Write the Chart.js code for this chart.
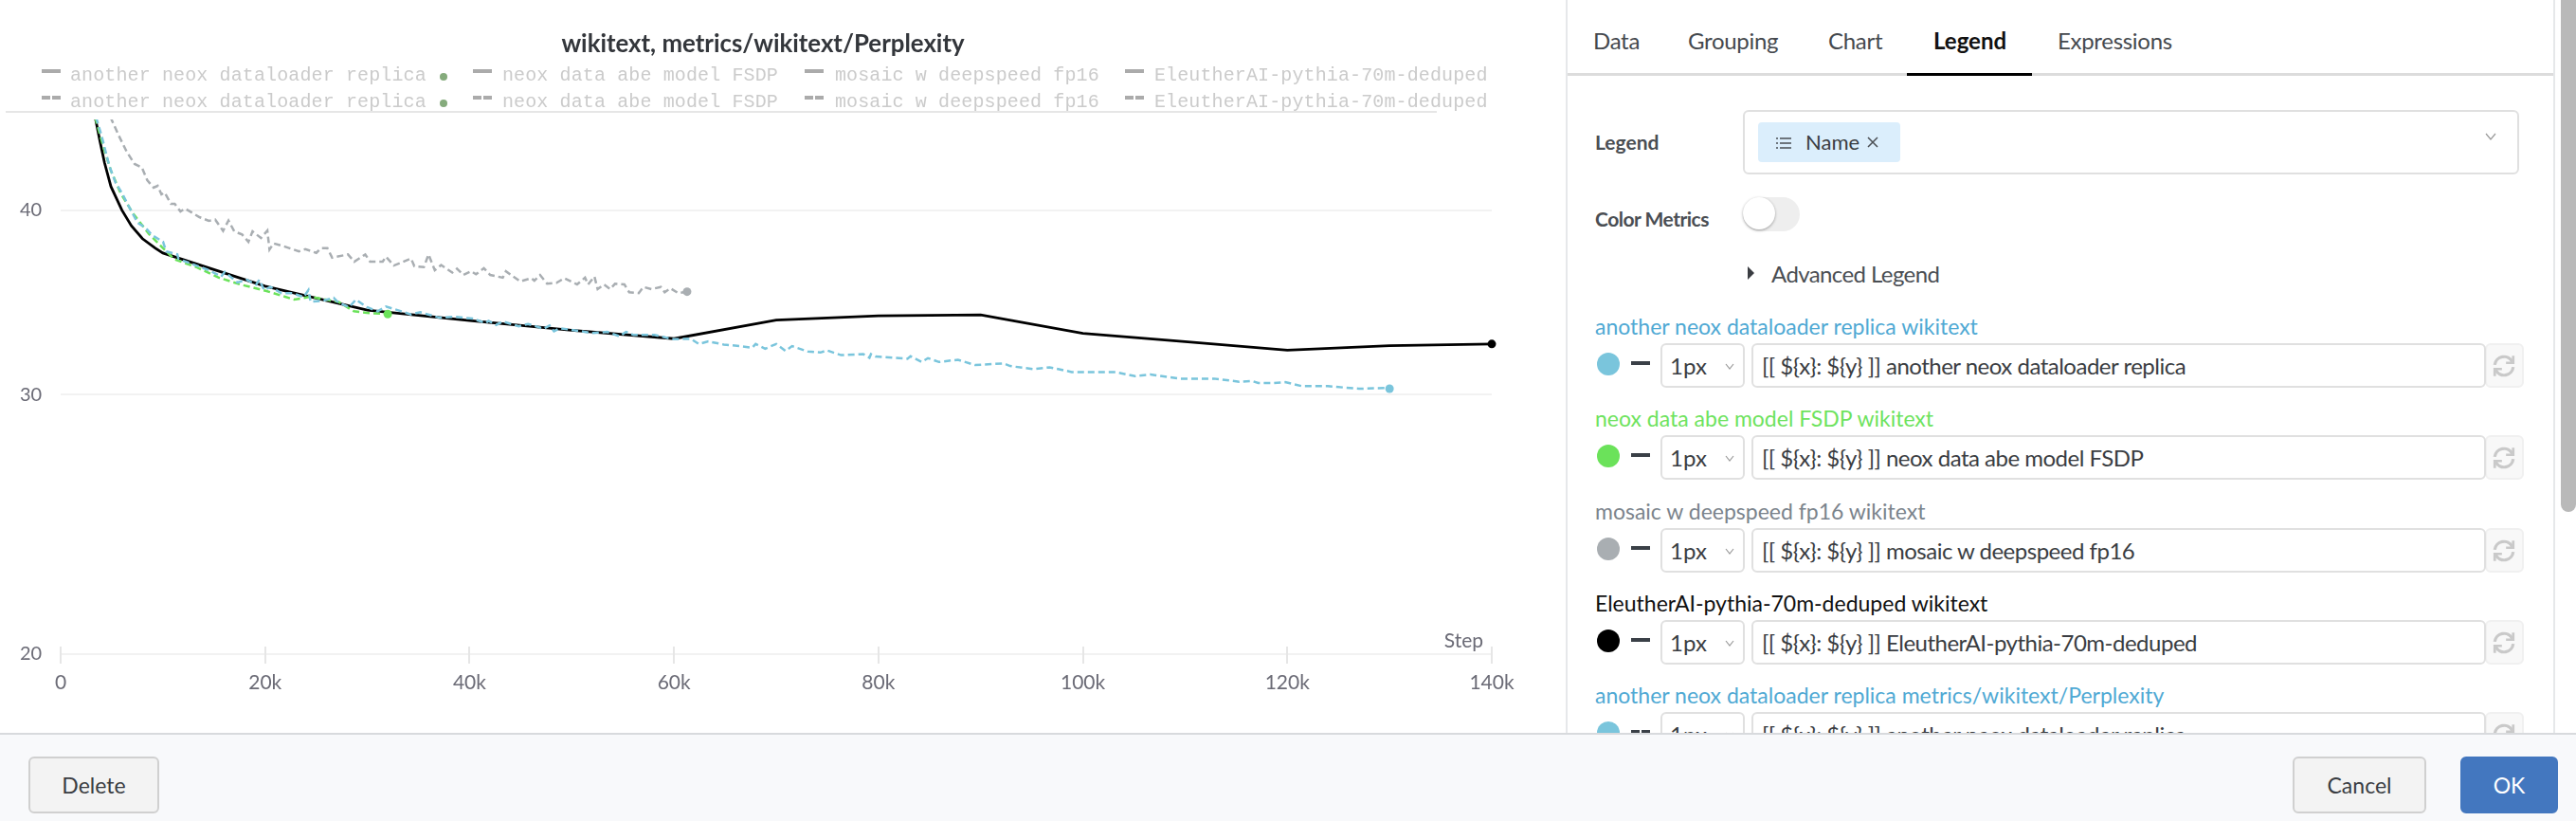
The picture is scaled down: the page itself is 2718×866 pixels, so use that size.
<!DOCTYPE html>
<html>
<head>
<meta charset="utf-8">
<title>wikitext, metrics/wikitext/Perplexity</title>
<script src="https://cdn.jsdelivr.net/npm/chart.js@4"></script>
<style>
  html, body { margin: 0; padding: 0; background: #fff; overflow: hidden; }
  body { width: 2718px; height: 866px; position: relative; font-family: Lato, sans-serif; color: #3a3d42; }
  .abs { position: absolute; white-space: nowrap; }
  canvas { position: absolute; left: 0; top: 0; }
  .lg { position: absolute; font-family: "Liberation Mono", monospace; font-size: 20px; letter-spacing: 0.12px; color: #cbcbcb; white-space: pre; line-height: 24px; }
  .sw { position: absolute; height: 4px; background: #ababab; }
  .gd { position: absolute; width: 8px; height: 8px; border-radius: 50%; background: #85ab7c; }
  .tab { position: absolute; top: 27px; font-size: 24px; line-height: 32px; letter-spacing: -0.3px; color: #45494e; white-space: nowrap; }
  .box { position: absolute; box-sizing: border-box; border: 2px solid #e0e0e0; border-radius: 6px; background: #fff; }
  .btn { position: absolute; box-sizing: border-box; top: 798px; height: 60px; border: 2px solid #d0d0d0; border-radius: 6px; background: #f3f3f3; font-size: 23px; line-height: 56px; text-align: center; color: #3a3d42; }
</style>
</head>
<body>
<canvas id="chart" width="1610" height="772"></canvas>
<div id="legend"></div>
<div class="abs" style="left:6px;top:117px;width:1510px;height:2px;background:#e6e6e6"></div>

<div id="panel">
  <div class="abs" style="left:1652px;top:0;width:2px;height:773px;background:#e6e8ea"></div>
  <div class="abs" style="left:2694px;top:0;width:2px;height:773px;background:#e6e8ea"></div>
  <div class="abs" style="left:2702px;top:0;width:16px;height:540px;background:#b9b9b9;border-radius:0 0 8px 8px"></div>
  <div class="abs" style="left:1654px;top:77px;width:1040px;height:3px;background:#dcdcdc"></div>
  <div class="abs" style="left:2012px;top:77px;width:132px;height:3px;background:#000"></div>
  <div class="tab" style="left:1681px">Data</div>
  <div class="tab" style="left:1781px">Grouping</div>
  <div class="tab" style="left:1929px">Chart</div>
  <div class="tab" style="left:2040px;font-weight:700;color:#111;letter-spacing:0">Legend</div>
  <div class="tab" style="left:2171px">Expressions</div>

  <div class="abs" style="left:1683px;top:136px;font-size:21px;line-height:28px;font-weight:700;color:#4a4e53">Legend</div>
  <div class="box" style="left:1839px;top:116px;width:819px;height:68px"></div>
  <div class="abs" style="left:1855px;top:129px;width:150px;height:42px;background:#dbeefc;border-radius:4px"></div>
  <svg class="abs" style="left:1873px;top:143px" width="18" height="16"><path d="M5 3H17M5 8H17M5 13H17M1 3H3M1 8H3M1 13H3" stroke="#4a4e53" stroke-width="1.5" fill="none"/></svg>
  <div class="abs" style="left:1905px;top:136px;font-size:22px;line-height:28px;color:#3a3d42">Name</div>
  <svg class="abs" style="left:1969px;top:143px" width="14" height="14"><path d="M2 2L12 12M12 2L2 12" stroke="#4a4e53" stroke-width="1.5" fill="none"/></svg>
  <svg class="abs" style="left:2622px;top:140px" width="12" height="8"><path d="M1 1L6 7L11 1" stroke="#9a9a9a" stroke-width="1.2" fill="none"/></svg>

  <div class="abs" style="left:1683px;top:217px;font-size:21px;line-height:28px;font-weight:700;letter-spacing:-0.5px;color:#4a4e53">Color Metrics</div>
  <div class="abs" style="left:1839px;top:208px;width:60px;height:36px;background:#eeeeee;border-radius:18px"></div>
  <div class="abs" style="left:1839px;top:208px;width:34px;height:34px;background:#fff;border-radius:50%;box-shadow:0 1px 3px rgba(0,0,0,.35)"></div>
  <div class="abs" style="left:1844px;top:281px;width:0;height:0;border-left:7px solid #3a3d42;border-top:7px solid transparent;border-bottom:7px solid transparent"></div>
  <div class="abs" style="left:1869px;top:273px;font-size:24px;line-height:32px;letter-spacing:-0.6px;color:#4a4e53">Advanced Legend</div>

  <div id="rows"></div>
</div>

<div class="abs" style="left:0;top:773px;width:2718px;height:93px;background:#f8f9fb;border-top:2px solid #d8dadd;box-sizing:border-box"></div>
<div class="btn" style="left:30px;width:138px">Delete</div>
<div class="btn" style="left:2419px;width:141px">Cancel</div>
<div class="btn" style="left:2596px;width:103px;background:#4377bf;border-color:#4377bf;color:#fff">OK</div>

<script>
const seriesNames = ['another neox dataloader replica', 'neox data abe model FSDP', 'mosaic w deepspeed fp16', 'EleutherAI-pythia-70m-deduped'];
const seriesColors = ['#7ac5dc', '#6be25a', '#a9aeb2', '#000000'];
const headingColors = ['#4fa9d4', '#6ee35e', '#7b848c', '#111111'];
const xTicks = [0, 20000, 40000, 60000, 80000, 100000, 120000, 140000];
const yTicks = [20, 30, 40];

const tealSteps = [3230,3525,3989,4759,5380,5964,6614,7541,8283,8932,10018,10324,11410,11530,13265,14500,15700,16050,17280,18210,19140,19440,19900,20530,21610,22660,23770,24240,24450,25630,26710,27180,28230,28880,29960,31010,31820,33330,34260,35180,37040,38430,40280,41560,41860,42610,43260,44800,45730,47240,47830,48260,48820,50950,51880,53460,54660,55310,56050,58100,59950,61650,62430,63360,64870,66440,67650,67990,68920,70000,70920,71550,73100,74330,74950,76340,78510,79120,79270,79710,82840,83140,84230,84840,85920,87780,89450,92230,92880,95200,96750,98910,101040,103240,105100,106610,109390,112830,115300,116540,117150,118670,119780,121450,123950,127010,129520,130000];
const tealValues = [47,46.09,44.97,42.86,41.74,41.12,40.3,39.21,38.93,38.47,38.07,37.51,37.33,37.07,36.69,36.42,36.06,36.33,35.73,35.88,35.62,35.88,35.31,35.48,35.14,35.14,34.93,35.31,34.67,34.72,34.89,34.62,34.38,34.79,34.38,34.16,34.41,34.16,33.99,34.11,33.82,33.87,33.77,33.54,33.65,33.44,33.62,33.37,33.49,33.24,33.41,33.11,33.27,33.11,33.02,33.08,32.85,33.08,32.92,32.92,32.7,32.72,32.46,32.59,32.43,32.35,32.27,32.46,32.22,32.46,32.11,32.35,32.08,32.03,32.14,31.9,31.95,31.77,31.95,31.83,31.72,31.84,31.56,31.75,31.56,31.67,31.41,31.49,31.36,31.21,31.3,31.07,31.06,31.06,30.87,30.95,30.75,30.75,30.6,30.64,30.54,30.54,30.58,30.39,30.39,30.27,30.3,30.27];

const greenSteps = [3180,3432,4137,4916,5844,7077,8627,9860,11094,13265,15426,17560,20064,22847,24396,27180,28690,29960,32000];
const greenValues = [47,46.09,44.26,42.55,41.1,39.8,38.55,37.79,37.06,36.6,36.01,35.62,35.27,34.79,34.94,34.67,34.16,34.07,34.01];

const greySteps = [4573,4972,5686,6456,7235,7940,8470,9090,9490,9860,10170,10790,11160,11720,12180,13570,14500,15120,15890,16420,16980,17750,18370,18770,19600,20220,20430,20830,21920,23310,23930,25010,25470,26090,26560,28110,28720,29800,30270,31500,31820,32590,34280,34600,35530,35990,36600,37220,38310,38770,39390,40160,40630,41400,42020,43250,43560,44950,46040,46340,46900,47590,48510,49280,50520,51300,51600,52220,52530,53150,53760,54230,55150,55620,56550,57010,57790,58720,59090,59650,60420,61280];
const greyValues = [47,46.09,44.94,43.83,42.99,42.76,41.92,41.43,41.55,41,41.12,40.4,40.4,39.92,40.1,39.57,39.34,39.41,38.73,39.36,38.7,38.51,38.07,38.7,38.3,38.74,37.62,37.98,37.79,37.51,37.64,37.42,37.7,37.7,37.14,37.33,36.91,37.33,36.91,36.91,37.2,36.69,37.09,36.65,36.6,37.33,36.42,36.72,36.29,36.51,36.15,36.36,36.19,36.54,36.15,36,36.36,35.79,35.97,35.83,36.15,35.66,35.71,35.97,35.62,36,35.62,36.06,35.36,35.62,35.36,35.66,35.62,35.19,35.14,35.48,35.36,35.48,35.19,35.41,35.14,35.22];

const blackSteps = [3180,3830,4295,4916,5992,6920,8005,9240,10000,20000,30000,40000,50000,60000,70000,80000,90000,100000,110000,120000,130000,140000];
const blackValues = [47,44.59,43.07,41.51,40,39.03,38.26,37.7,37.41,35.52,34.22,33.67,33.16,32.73,33.69,33.92,33.97,33,32.58,32.15,32.37,32.46];

function toPoints(steps, values) {
  return steps.map((x, i) => ({ x: x, y: values[i] }));
}

function lineSet(name, idx, steps, values, dash, width) {
  return {
    label: name,
    data: toPoints(steps, values),
    borderColor: seriesColors[idx],
    backgroundColor: seriesColors[idx],
    borderWidth: width,
    borderDash: dash,
    tension: 0,
    fill: false,
    pointBorderWidth: 0,
    pointRadius: ctx => (ctx.dataIndex === steps.length - 1 ? 4.5 : 0),
    clip: { left: 0, top: 0, right: 8, bottom: 0 }
  };
}

// short ticks that straddle the bottom line, plus the "Step" label
const axisExtras = {
  id: 'axisExtras',
  afterDraw(chart) {
    const ctx = chart.ctx, x = chart.scales.x, y = chart.scales.y;
    const base = y.getPixelForValue(20);
    ctx.save();
    ctx.strokeStyle = '#e6e6e6';
    ctx.lineWidth = 2;
    xTicks.forEach(v => {
      const px = Math.round(x.getPixelForValue(v));
      ctx.beginPath();
      ctx.moveTo(px, base - 8);
      ctx.lineTo(px, base + 10);
      ctx.stroke();
    });
    ctx.fillStyle = '#6b6b76';
    ctx.font = '21px Lato';
    ctx.textAlign = 'right';
    ctx.textBaseline = 'middle';
    ctx.fillText('Step', x.right - 9, base - 14);
    ctx.restore();
  }
};

new Chart(document.getElementById('chart'), {
  type: 'line',
  data: {
    datasets: [
      lineSet(seriesNames[0], 0, tealSteps, tealValues, [7, 4], 2.5),
      lineSet(seriesNames[1], 1, greenSteps, greenValues, [7, 4], 2.5),
      lineSet(seriesNames[2], 2, greySteps, greyValues, [7, 4], 2.5),
      lineSet(seriesNames[3], 3, blackSteps, blackValues, [], 2.8)
    ]
  },
  options: {
    responsive: false,
    animation: false,
    devicePixelRatio: 1,
    layout: { autoPadding: false, padding: { left: 36, right: 36, top: 0, bottom: 0 } },
    plugins: {
      legend: { display: false },
      tooltip: { enabled: false },
      title: {
        display: true,
        text: 'wikitext, metrics/wikitext/Perplexity',
        color: '#33363b',
        font: { family: 'Lato', size: 25.8, weight: 'bold', lineHeight: 1.2 },
        padding: { top: 31, bottom: 64 }
      }
    },
    scales: {
      x: {
        type: 'linear',
        min: 0,
        max: 140000,
        afterBuildTicks: s => { s.ticks = xTicks.map(v => ({ value: v })); },
        afterFit: s => { s.height = 82; },
        grid: { display: false },
        border: { display: false },
        ticks: {
          padding: 10,
          maxRotation: 0,
          color: '#6b6b76',
          font: { family: 'Lato', size: 21 },
          callback: v => (v === 0 ? '0' : v / 1000 + 'k')
        }
      },
      y: {
        type: 'logarithmic',
        min: 20,
        max: 46.09,
        afterBuildTicks: s => { s.ticks = yTicks.map(v => ({ value: v })); },
        afterFit: s => { s.width = 28; },
        grid: { color: '#f2f2f2', lineWidth: 2, drawTicks: false },
        border: { display: false },
        // mirrored so the labels may sit left of the narrow axis box
        ticks: {
          mirror: true,
          padding: -43,
          color: '#6b6b76',
          font: { family: 'Lato', size: 20 },
          callback: v => String(v)
        }
      }
    }
  },
  plugins: [axisExtras]
});

// two legend rows above the plot: solid swatch then dashed swatch
const swatchLefts = [44, 499, 849, 1187];
const textLefts = [74, 530, 881, 1218];
const legendEl = document.getElementById('legend');
[0, 1].forEach(row => {
  const top = 68 + row * 27.5;
  seriesNames.forEach((name, i) => {
    const left = swatchLefts[i];
    const swatch = row === 0
      ? `<div class="sw" style="left:${left}px;top:${top + 5}px;width:20px"></div>`
      : `<div class="sw" style="left:${left}px;top:${top + 5}px;width:9px"></div><div class="sw" style="left:${left + 11}px;top:${top + 5}px;width:9px"></div>`;
    const dot = i === 0 ? `<div class="gd" style="left:464px;top:${top + 9}px"></div>` : '';
    legendEl.insertAdjacentHTML('beforeend', swatch + `<div class="lg" style="left:${textLefts[i]}px;top:${top}px">${name}</div>` + dot);
  });
});

// settings rows in the side panel
const refreshIcon = '<svg width="26" height="26" viewBox="0 0 24 24" fill="none" stroke="#c9c9c9" stroke-width="3"><path d="M3 11A9 9 0 0 1 20 8M21 13A9 9 0 0 1 4 16"/><path d="M21 2V9H14M3 22V15H10" stroke-width="2.5"/></svg>';
const rowsEl = document.getElementById('rows');
const rowTitles = seriesNames.map(n => n + ' wikitext').concat(seriesNames[0] + ' metrics/wikitext/Perplexity');
rowTitles.forEach((title, i) => {
  const c = i % 4, t = Math.round(362 + i * 97.3);
  const mark = i < 4
    ? `<div class="abs" style="left:1721px;top:${t + 19}px;width:20px;height:4px;background:#3a4047"></div>`
    : `<div class="abs" style="left:1721px;top:${t + 19}px;width:9px;height:4px;background:#3a4047"></div><div class="abs" style="left:1732px;top:${t + 19}px;width:9px;height:4px;background:#3a4047"></div>`;
  rowsEl.insertAdjacentHTML('beforeend', `
    <div class="abs" style="left:1683px;top:${t - 33}px;font-size:23px;line-height:30px;color:${headingColors[c]}">${title}</div>
    <div class="abs" style="left:1685px;top:${t + 10}px;width:24px;height:24px;border-radius:50%;background:${seriesColors[c]}"></div>
    ${mark}
    <div class="box" style="left:1752px;top:${t}px;width:89px;height:47px"></div>
    <div class="abs" style="left:1762px;top:${t + 9}px;font-size:24px;line-height:30px;color:#3a3d42">1px</div>
    <svg class="abs" style="left:1820px;top:${t + 21}px" width="10" height="7"><path d="M1 1L5 6L9 1" stroke="#9a9a9a" stroke-width="1.2" fill="none"/></svg>
    <div class="box" style="left:2622px;top:${t}px;width:41px;height:47px;background:#f8f8f8;border-color:#f0f0f0"></div>
    <div class="abs" style="left:2629px;top:${t + 11}px">${refreshIcon}</div>
    <div class="box" style="left:1848px;top:${t}px;width:775px;height:47px"></div>
    <div class="abs" style="left:1859px;top:${t + 9}px;font-size:24px;line-height:30px;letter-spacing:-0.5px;color:#3a3d42">[[ \${x}: \${y} ]] ${seriesNames[c]}</div>
  `);
});
</script>
</body>
</html>
